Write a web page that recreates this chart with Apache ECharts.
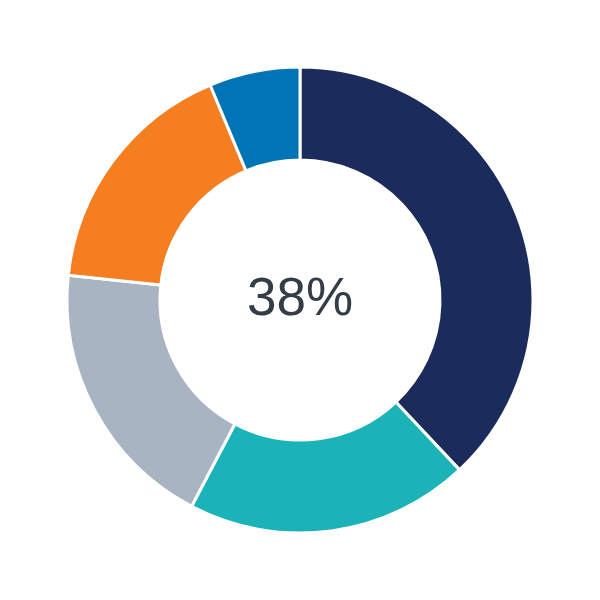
<!DOCTYPE html>
<html><head><meta charset="utf-8">
<script src="https://cdn.jsdelivr.net/npm/echarts@6/dist/echarts.min.js"></script>
<style>html,body{margin:0;padding:0;background:#fff}#c{width:600px;height:600px}</style>
</head><body><div id="c"></div>
<script>
const categories = ['A', 'B', 'C', 'D', 'E'];
const values = [38, 19.7, 19, 17, 6.3];
const colors = ['#1b2b5b', '#1bb3b7', '#a9b4c2', '#f47e20', '#0074b5'];
const centerLabel = '38%';

const chart = echarts.init(document.getElementById('c'));
chart.setOption({
  animation: false,
  title: {
    text: centerLabel, left: 'center', top: 'middle',
    textStyle: { fontFamily: 'Liberation Sans, Arial', fontSize: 53, fontWeight: 'normal', color: '#343c47' }
  },
  series: [{
    type: 'pie',
    center: ['50%', '50%'],
    radius: [140, 233],
    startAngle: 90,
    clockwise: true,
    label: { show: false },
    labelLine: { show: false },
    itemStyle: { borderColor: '#fff', borderWidth: 3 },
    data: categories.map((c, i) => ({ name: c, value: values[i], itemStyle: { color: colors[i] } }))
  }]
});
</script></body></html>
